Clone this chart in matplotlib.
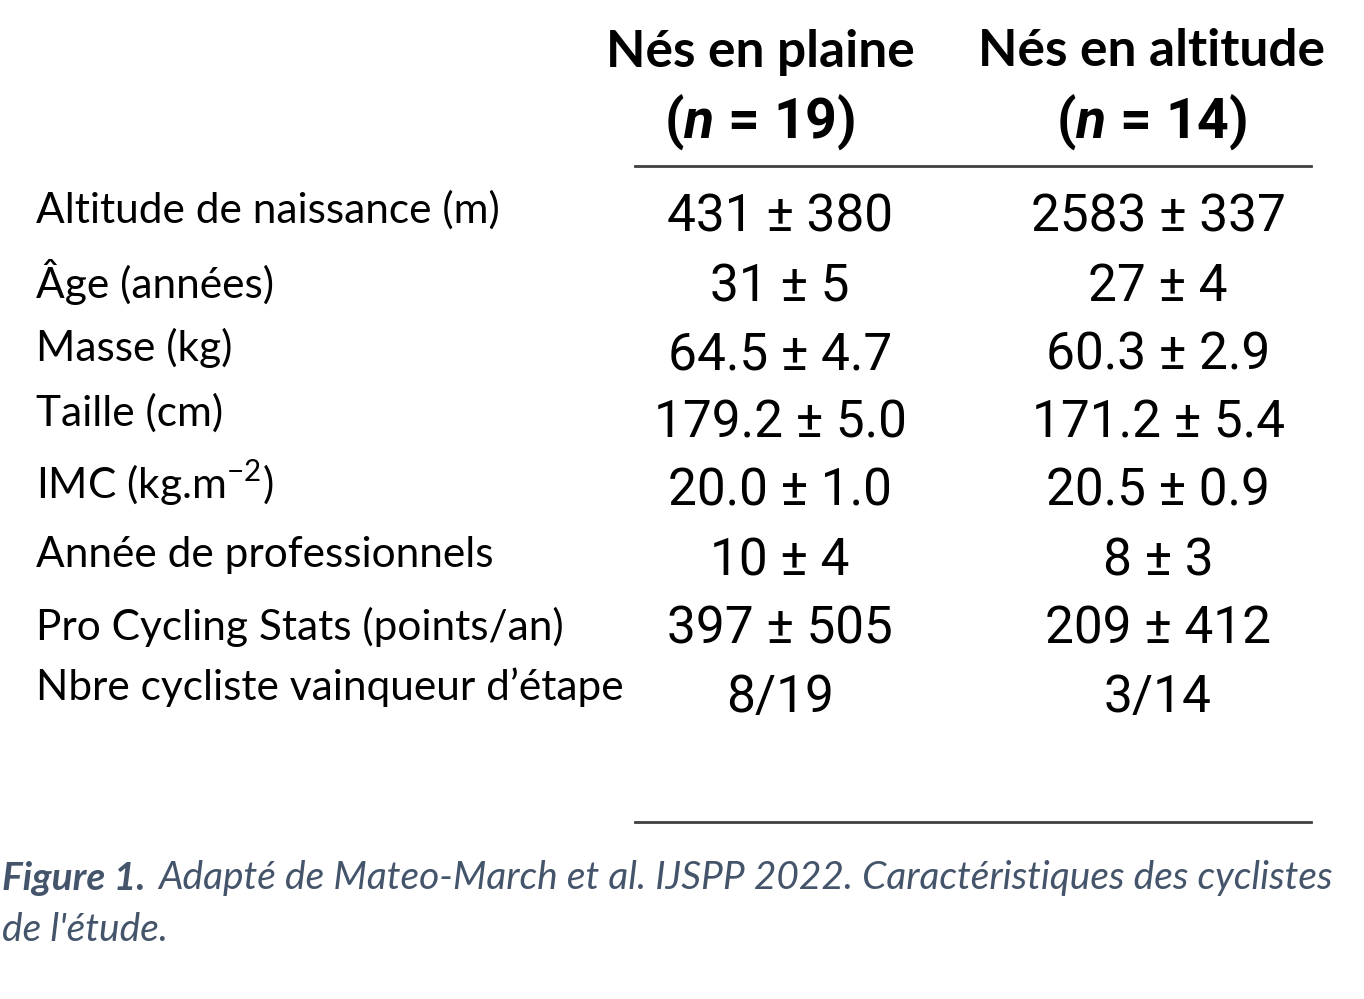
import matplotlib.pyplot as plt

# --- Data ---
ROW_LABELS = [
    "Altitude de naissance (m)", "Âge (années)", "Masse (kg)", "Taille (cm)",
    r"IMC (kg.m$^{\mathrm{-2}}$)", "Année de professionnels",
    "Pro Cycling Stats (points/an)", "Nbre cycliste vainqueur d\u2019étape",
]
PLAINE = ["431 ± 380", "31 ± 5", "64.5 ± 4.7", "179.2 ± 5.0",
          "20.0 ± 1.0", "10 ± 4", "397 ± 505", "8/19"]
ALTITUDE = ["2583 ± 337", "27 ± 4", "60.3 ± 2.9", "171.2 ± 5.4",
            "20.5 ± 0.9", "8 ± 3", "209 ± 412", "3/14"]
HEADERS = ["Nés en plaine", "Nés en altitude"]
N_VALUES = [19, 14]

W, H = 1364, 999
plt.rcParams['mathtext.fontset'] = 'custom'
plt.rcParams['mathtext.it'] = 'Roboto:italic:bold'
plt.rcParams['mathtext.rm'] = 'Lato'

fig = plt.figure(figsize=(W / 100, H / 100), dpi=100)
fig.patch.set_facecolor('white')


def px(x, y):
    return x / W, 1 - y / H


NUM_FONT = ['Roboto', 'DejaVu Sans']
LABEL_FONT = ['Lato', 'DejaVu Sans']

col_x = [780, 1158]
label_y = [210, 282, 348, 413, 483, 555, 627, 687]
value_y = [217, 287, 355, 423, 492, 562, 630, 698]

for cx, head, n in zip([760, 1152], HEADERS, N_VALUES):
    fig.text(*px(cx, 52), head, ha='center', va='center', fontsize=37,
             fontweight='bold', family=LABEL_FONT)
    fig.text(*px(cx, 122), rf"($\mathit{{n}}$ = {n})", ha='center', va='center',
             fontsize=40, fontweight='bold', family=NUM_FONT)

for y in [166, 822]:
    fig.add_artist(plt.Line2D([635 / W, 1311 / W], [1 - y / H] * 2,
                              color='#404040', lw=2))

for lbl, ly in zip(ROW_LABELS, label_y):
    fig.text(*px(36, ly), lbl, ha='left', va='center', fontsize=30.5,
             family=LABEL_FONT)

for col, cx in zip([PLAINE, ALTITUDE], col_x):
    for val, vy in zip(col, value_y):
        fig.text(*px(cx, vy), val, ha='center', va='center', fontsize=37,
                 family=NUM_FONT)

cap_color = '#44546A'
fig.text(*px(2, 878), "Figure 1.", ha='left', va='center', fontsize=28,
         fontweight='bold', style='italic', color=cap_color, family=LABEL_FONT)
fig.text(*px(158, 878),
         "Adapté de Mateo-March et al. IJSPP 2022. Caractéristiques des cyclistes",
         ha='left', va='center', fontsize=28, style='italic', color=cap_color,
         family=LABEL_FONT)
fig.text(*px(2, 930), "de l'étude.", ha='left', va='center', fontsize=28,
         style='italic', color=cap_color, family=LABEL_FONT)

fig.savefig('out.png', dpi=100)
